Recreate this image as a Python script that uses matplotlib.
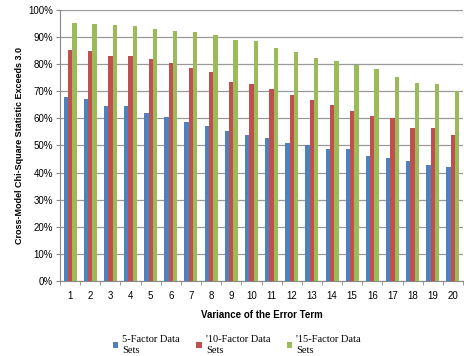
import matplotlib
matplotlib.use("Agg")
import matplotlib.pyplot as plt
import numpy as np
from matplotlib.ticker import PercentFormatter, MultipleLocator, FixedLocator

categories = [str(i) for i in range(1, 21)]
five_factor = [67.8, 67.2, 64.6, 64.6, 62.1, 60.5, 58.7, 57.1, 55.2, 54.0,
               52.8, 50.8, 50.0, 48.6, 48.6, 46.2, 45.4, 44.4, 42.8, 42.1]
ten_factor = [85.2, 85.0, 83.1, 83.1, 82.0, 80.3, 78.5, 77.2, 73.3, 72.7,
              70.8, 68.5, 66.7, 64.8, 62.8, 60.8, 60.0, 56.5, 56.5, 54.0]
fifteen_factor = [95.1, 94.8, 94.3, 94.0, 93.0, 92.3, 91.8, 90.9, 89.0, 88.4,
                  85.9, 84.6, 82.3, 81.3, 79.6, 78.1, 75.3, 73.2, 72.7, 70.1]
series_labels = ["5-Factor Data\nSets", "'10-Factor Data\nSets", "'15-Factor Data\nSets"]
colors = ["#4F81BD", "#C0504D", "#9BBB59"]

fig = plt.figure(figsize=(4.74, 3.56), dpi=100)
ax = fig.add_axes([0.1266, 0.2107, 0.8502, 0.7612])

x = np.arange(len(categories))
w = 0.215
handles = []
for i, (vals, c, lab) in enumerate(zip([five_factor, ten_factor, fifteen_factor], colors, series_labels)):
    h = ax.bar(x + (i - 1) * w, vals, width=w, color=c, label=lab, zorder=3)
    handles.append(h)

ax.set_xlim(-0.5, len(categories) - 0.5)
ax.set_ylim(0, 100)
ax.yaxis.set_major_locator(MultipleLocator(10))
ax.yaxis.set_major_formatter(PercentFormatter(decimals=0))
ax.set_xticks(x)
ax.set_xticklabels(categories)
ax.xaxis.set_minor_locator(FixedLocator(np.arange(-0.5, len(categories), 1)))
ax.tick_params(axis="x", which="major", length=0, pad=7, labelsize=7)
ax.tick_params(axis="x", which="minor", length=3, color="#888888", direction="out")
ax.tick_params(axis="y", length=3, color="#888888", labelsize=7, pad=2)
for lab in ax.get_xticklabels() + ax.get_yticklabels():
    lab.set_fontfamily("Liberation Sans")

ax.grid(axis="y", color="#999999", linewidth=0.9, zorder=0)
for s in ["top", "right"]:
    ax.spines[s].set_visible(False)
ax.spines["left"].set_color("#888888")
ax.spines["bottom"].set_color("#888888")

ax.set_xlabel("Variance of the Error Term", fontsize=7, fontweight="bold",
              family="Liberation Sans", labelpad=7)
ax.set_ylabel("Cross-Model Chi-Square Statistic Exceeds 3.0", fontsize=6.5,
              fontweight="bold", family="Liberation Sans", labelpad=3)

leg = fig.legend(handles=handles, labels=series_labels, loc="upper left",
                 bbox_to_anchor=(0.238, 0.058), ncol=3, frameon=False,
                 prop={"family": "Liberation Serif", "size": 7.5},
                 handlelength=0.5, handleheight=0.5, handletextpad=0.4,
                 columnspacing=1.6, borderaxespad=0, borderpad=0,
                 labelspacing=0.1)

fig.savefig("out.png", dpi=100)
